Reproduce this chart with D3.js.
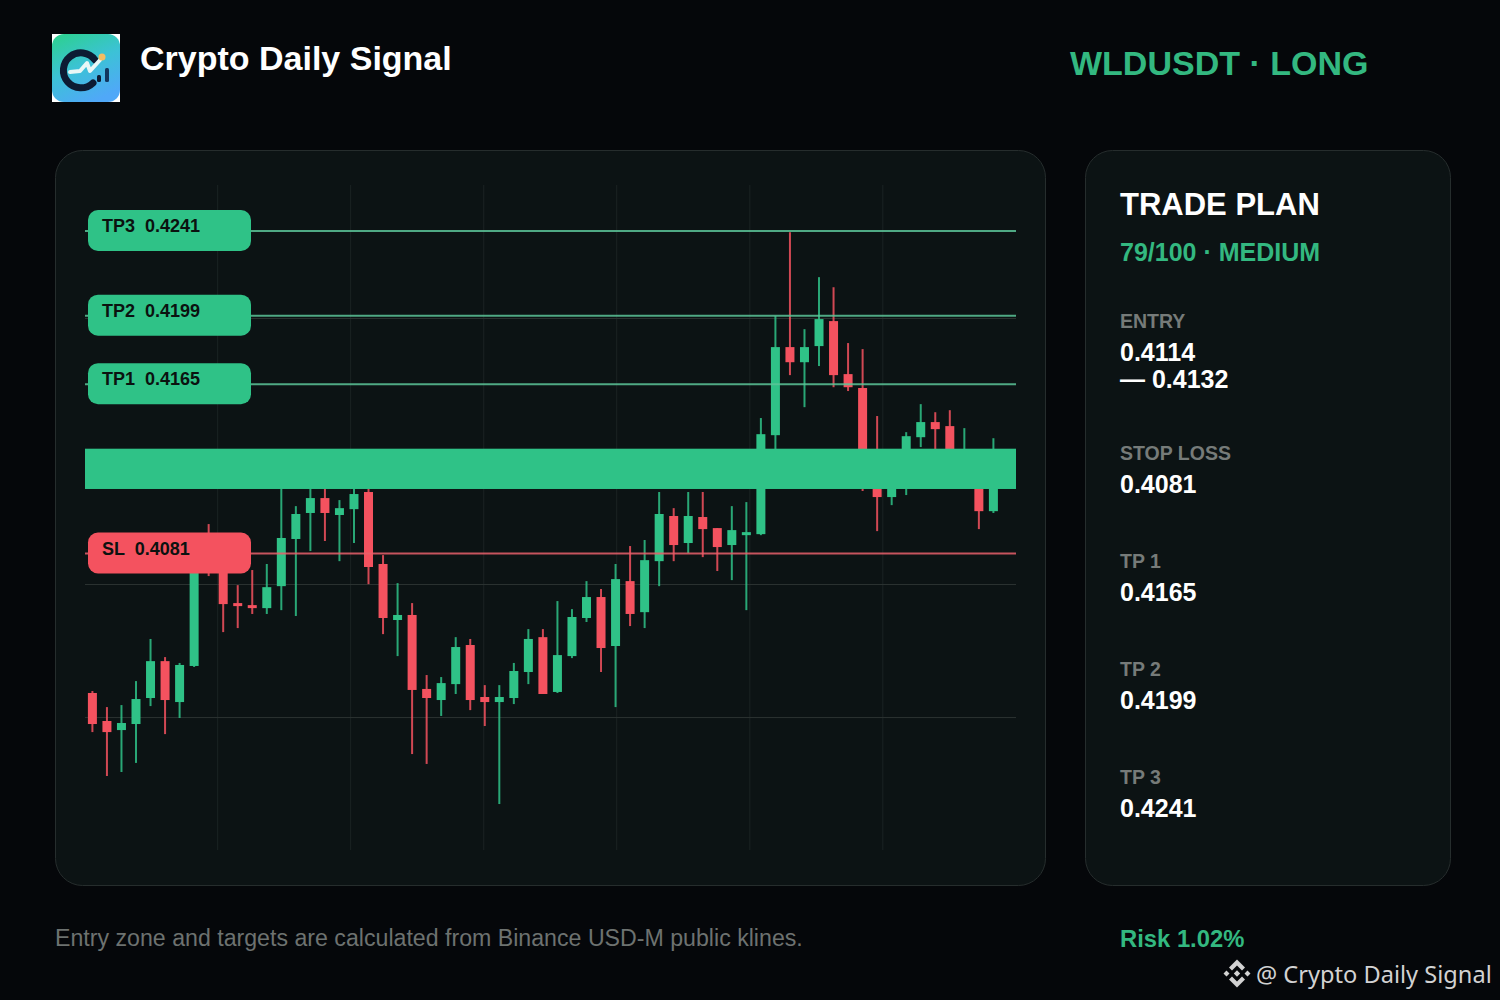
<!DOCTYPE html>
<html>
<head>
<meta charset="utf-8">
<script src="https://cdn.jsdelivr.net/npm/d3@7/dist/d3.min.js"></script>
<style>
html,body{margin:0;padding:0;background:#05070a;overflow:hidden}
svg{display:block}
text{font-family:"Liberation Sans",Arial,sans-serif;white-space:pre}
</style>
</head>
<body>
<svg id="c" width="1500" height="1000" viewBox="0 0 1500 1000"></svg>
<script>
const opens = [0.40118,0.39979,0.39934,0.39964,0.40093,0.40276,0.40073,0.40252,0.40877,0.40738,0.40564,0.40554,0.40539,0.40648,0.40882,0.41011,0.41085,0.41001,0.41030,0.41115,0.40758,0.40480,0.40505,0.40138,0.40083,0.40162,0.40356,0.40098,0.40073,0.40093,0.40222,0.40395,0.40123,0.40301,0.40490,0.40594,0.40351,0.40673,0.40519,0.40772,0.40996,0.40862,0.40991,0.40936,0.40852,0.40901,0.40906,0.41397,0.41834,0.41759,0.41839,0.41963,0.41700,0.41631,0.41313,0.41090,0.41174,0.41387,0.41462,0.41442,0.41174,0.41224,0.41020];
const highs = [0.40128,0.40048,0.40058,0.40177,0.40386,0.40296,0.40267,0.40852,0.40956,0.40777,0.40653,0.40728,0.40758,0.41174,0.41045,0.41174,0.41174,0.41075,0.41174,0.41134,0.40802,0.40663,0.40564,0.40207,0.40197,0.40395,0.40386,0.40157,0.40157,0.40267,0.40435,0.40435,0.40574,0.40534,0.40673,0.40634,0.40758,0.40847,0.40877,0.41115,0.41035,0.41115,0.41115,0.40936,0.41045,0.41065,0.41482,0.41988,0.42404,0.41923,0.42181,0.42131,0.41854,0.41824,0.41492,0.41298,0.41412,0.41551,0.41511,0.41521,0.41432,0.41273,0.41382];
const lows = [0.39924,0.39706,0.39726,0.39771,0.40053,0.39914,0.39994,0.40247,0.40698,0.40420,0.40440,0.40510,0.40510,0.40529,0.40500,0.40822,0.40872,0.40772,0.40862,0.40658,0.40410,0.40301,0.39815,0.39766,0.40004,0.40113,0.40033,0.39954,0.39567,0.40063,0.40162,0.40113,0.40118,0.40291,0.40470,0.40222,0.40048,0.40450,0.40440,0.40648,0.40772,0.40812,0.40792,0.40723,0.40678,0.40529,0.40901,0.41313,0.41695,0.41536,0.41740,0.41635,0.41616,0.41120,0.40921,0.41050,0.41100,0.41338,0.41273,0.41199,0.41149,0.40931,0.41011];
const closes = [0.39964,0.39924,0.39969,0.40088,0.40276,0.40083,0.40257,0.40827,0.40728,0.40559,0.40549,0.40539,0.40643,0.40887,0.41006,0.41085,0.41011,0.41035,0.41105,0.40743,0.40490,0.40505,0.40133,0.40093,0.40167,0.40346,0.40083,0.40073,0.40098,0.40227,0.40386,0.40113,0.40306,0.40495,0.40594,0.40341,0.40683,0.40510,0.40777,0.41006,0.40852,0.40996,0.40931,0.40842,0.40926,0.40916,0.41402,0.41834,0.41759,0.41834,0.41973,0.41695,0.41635,0.41249,0.41090,0.41249,0.41392,0.41462,0.41427,0.41249,0.41273,0.41020,0.41224];

const levelNames = ["TP3","TP2","TP1","SL"];
const levelValues = [0.4241,0.4199,0.4165,0.4081];
const entryZone = [0.4114,0.4132];
const gridPrices = [0.39996,0.40656,0.41976];
const gridTimes = [8.62,17.77,26.93,36.08,45.24,54.39];

const planLabels = ["ENTRY","STOP LOSS","TP 1","TP 2","TP 3"];
const planValues = ["0.4114","0.4081","0.4165","0.4199","0.4241"];

const GREEN="#2fc287", RED="#f4525f";
const svg=d3.select("#c");
const defs=svg.append("defs");
const lg=defs.append("linearGradient").attr("id","logoG").attr("x1","0.15").attr("y1","0").attr("x2","0.6").attr("y2","1");
lg.append("stop").attr("offset","0").attr("stop-color","#2dd092");
lg.append("stop").attr("offset","0.5").attr("stop-color","#3cc2d6");
lg.append("stop").attr("offset","1").attr("stop-color","#50a8f8");

const txt=(s,x,y,size,fill,weight)=>svg.append("text").attr("x",x).attr("y",y).attr("font-size",size).attr("fill",fill).attr("font-weight",weight||"normal").text(s);

// logo
const logo=svg.append("g").attr("transform","translate(52,34)");
logo.append("rect").attr("width",68).attr("height",68).attr("fill","#fff");
logo.append("rect").attr("width",68).attr("height",68).attr("rx",12).attr("fill","url(#logoG)");
logo.append("path").attr("d","M43 26 A17.5 17.5 0 1 0 41 49").attr("fill","none").attr("stroke","#0d1b33").attr("stroke-width",7).attr("stroke-linecap","round");
logo.append("path").attr("d","M18 38 L28 37 L35 29 L38 37 L48 26").attr("fill","none").attr("stroke","#e9f7f6").attr("stroke-width",4).attr("stroke-linejoin","round").attr("stroke-linecap","round");
logo.append("circle").attr("cx",50).attr("cy",23).attr("r",3.5).attr("fill","#f3bd62");
logo.append("rect").attr("x",53).attr("y",34).attr("width",4).attr("height",14).attr("rx",1.5).attr("fill","#12365f");
logo.append("rect").attr("x",45).attr("y",41).attr("width",4).attr("height",7).attr("rx",1.5).attr("fill","#0d1b33");

txt("Crypto Daily Signal",140,70,34,"#ffffff","bold");
txt("WLDUSDT · LONG",1070,75,34,"#33b880","bold");

// cards
[[55.5,150.5,990,735],[1085.5,150.5,365,735]].forEach(([x,y,w,h])=>{
  svg.append("rect").attr("x",x).attr("y",y).attr("width",w).attr("height",h).attr("rx",27).attr("fill","#0c1314").attr("stroke","#262d2d").attr("stroke-width",1);
});

// scales
const xScale=d3.scaleLinear().domain([0,opens.length-1]).range([92.4,993.4]);
const yScale=d3.scaleLinear().domain([0.4081,0.4241]).range([553.5,231]);
const left=85,right=1016,top_=185,bottom=850;
const fmt=d3.format(".4f");

// grid
const grid=svg.append("g");
grid.selectAll("line.v").data(gridTimes).join("line").attr("class","v")
  .attr("x1",d=>xScale(d)).attr("x2",d=>xScale(d)).attr("y1",top_).attr("y2",bottom)
  .attr("stroke","#1b2323").attr("stroke-width",1);
grid.selectAll("line.h").data(gridPrices).join("line").attr("class","h")
  .attr("x1",left).attr("x2",right).attr("y1",d=>yScale(d)).attr("y2",d=>yScale(d))
  .attr("stroke","#2c3332").attr("stroke-width",1);

// candles
const candles=opens.map((o,i)=>({i,o,h:highs[i],l:lows[i],c:closes[i]}));
const cg=svg.append("g").selectAll("g").data(candles).join("g");
const col=d=>d.c>=d.o?GREEN:RED;
cg.append("line").attr("x1",d=>xScale(d.i)).attr("x2",d=>xScale(d.i))
  .attr("y1",d=>yScale(d.h)).attr("y2",d=>yScale(d.l)).attr("stroke",col).attr("stroke-width",2).attr("stroke-opacity",0.85);
cg.append("rect").attr("x",d=>xScale(d.i)-4.5).attr("width",9)
  .attr("y",d=>yScale(Math.max(d.o,d.c))).attr("height",d=>Math.max(2,Math.abs(yScale(d.o)-yScale(d.c))))
  .attr("fill",col);

// level lines
const levels=levelNames.map((n,i)=>({n,v:levelValues[i]}));
const lcol=d=>d.n==="SL"?RED:GREEN;
const lineCol=d=>d.n==="SL"?"#e8606b":"#5cc498";
svg.append("g").selectAll("line").data(levels).join("line")
  .attr("x1",left).attr("x2",right).attr("y1",d=>yScale(d.v)).attr("y2",d=>yScale(d.v))
  .attr("stroke",lineCol).attr("stroke-width",2).attr("stroke-opacity",0.85);

// entry band
svg.append("rect").attr("x",left).attr("width",right-left)
  .attr("y",yScale(entryZone[1])-2).attr("height",yScale(entryZone[0])-yScale(entryZone[1])+4)
  .attr("fill",GREEN);

// pills
const pg=svg.append("g").selectAll("g").data(levels).join("g");
pg.append("rect").attr("x",88).attr("width",163).attr("height",41).attr("rx",10)
  .attr("y",d=>yScale(d.v)-21).attr("fill",lcol);
pg.append("text").attr("x",102).attr("y",d=>yScale(d.v)+1).attr("font-size",18).attr("font-weight","bold").attr("fill","#0b1210")
  .text(d=>d.n+"  "+fmt(d.v));

// panel
txt("TRADE PLAN",1120,215,31,"#ffffff","bold");
txt("79/100 · MEDIUM",1120,261,25,"#33b880","bold");
const labelY=[328,460,568,676,784];
const valueY=[361,493,601,709,817];
planLabels.forEach((l,i)=>{
  txt(l,1120,labelY[i],19.5,"#767b79","bold");
  txt(planValues[i],1120,valueY[i],25,"#ffffff","bold");
});
txt("— "+fmt(entryZone[1]),1120,388,25,"#ffffff","bold");

// footer
txt("Entry zone and targets are calculated from Binance USD-M public klines.",55,946,23.16,"#6d7270");
txt("Risk 1.02%",1120,947,23.8,"#33b880","bold");

// watermark
const wm=svg.append("g").attr("transform","translate(1237,973.5)").attr("fill","#d2d2d2");
const dia=(cx,cy,r)=>`M${cx} ${cy-r}L${cx+r} ${cy}L${cx} ${cy+r}L${cx-r} ${cy}Z`;
wm.append("path").attr("d",dia(0,0,3.2)+dia(-10.5,0,3)+dia(10.5,0,3));
wm.append("path").attr("d","M0 -14L8 -6L5 -3L0 -8L-5 -3L-8 -6Z");
wm.append("path").attr("d","M0 14L8 6L5 3L0 8L-5 3L-8 6Z");
svg.append("text").attr("x",1256).attr("y",983).attr("font-size",23.6).attr("fill","#d2d2d2")
  .style("font-family",'"Noto Sans"').text("@ Crypto Daily Signal");
</script>
</body>
</html>
